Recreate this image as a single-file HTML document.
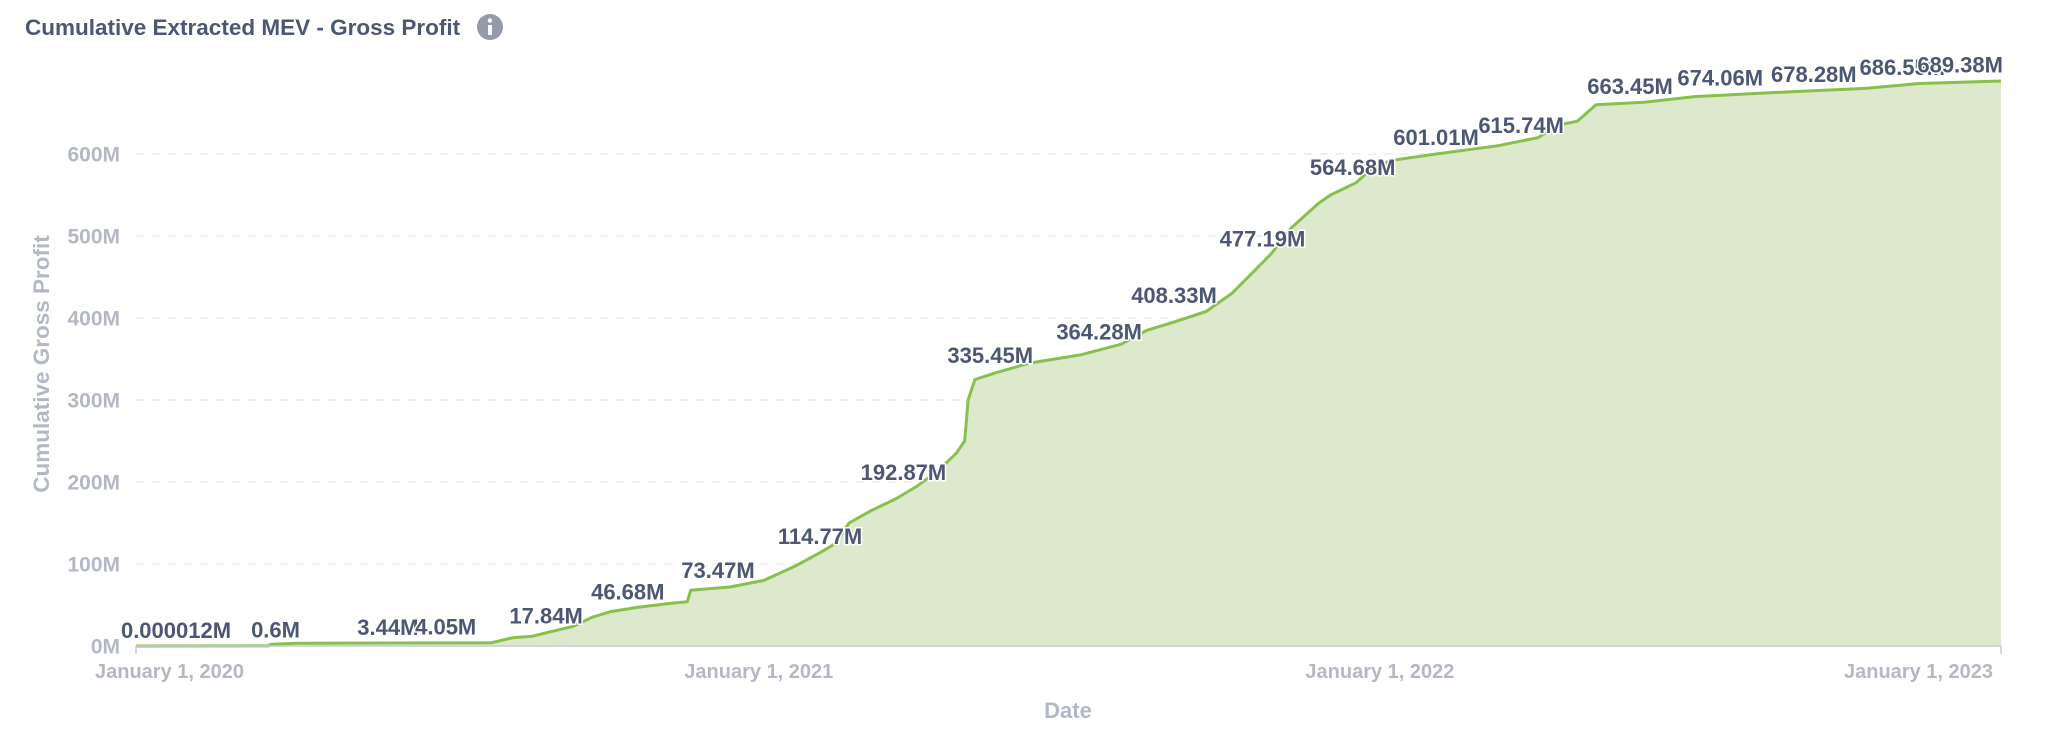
<!DOCTYPE html>
<html><head><meta charset="utf-8"><style>
html,body{margin:0;padding:0;background:#fff;}
svg{display:block;font-family:"Liberation Sans",sans-serif;}
</style></head><body>
<svg id="chart" width="2048" height="741" viewBox="0 0 2048 741">
<text x="25" y="35" font-size="22.5" font-weight="bold" fill="#4c5773">Cumulative Extracted MEV - Gross Profit</text>
<g>
<circle cx="490" cy="27" r="13" fill="#949aab"/>
<circle cx="490" cy="20.5" r="2.2" fill="#fff"/>
<rect x="488" y="25" width="4" height="10" fill="#fff"/>
</g>
<g id="grid"></g>
<g id="area"></g>
<g id="axes"></g>
<g id="labels"></g>
<text x="0" y="0" transform="translate(49,364) rotate(-90)" text-anchor="middle" font-size="22.5" font-weight="bold" fill="#b3b8c4">Cumulative Gross Profit</text>
<text x="1068" y="718" text-anchor="middle" font-size="22" font-weight="bold" fill="#b3b8c4">Date</text>
</svg>
<script>
const curveDates = ["2020-01-01","2020-03-19","2020-03-20","2020-04-04","2020-07-28","2020-08-09","2020-08-21","2020-09-02","2020-09-14","2020-09-25","2020-10-06","2020-10-21","2020-11-10","2020-11-20","2020-11-22","2020-12-15","2021-01-04","2021-01-23","2021-02-07","2021-02-15","2021-02-23","2021-03-08","2021-03-23","2021-04-04","2021-04-17","2021-04-27","2021-05-02","2021-05-04","2021-05-08","2021-05-20","2021-06-09","2021-07-09","2021-08-02","2021-08-17","2021-09-02","2021-09-21","2021-10-06","2021-10-18","2021-10-29","2021-11-10","2021-11-26","2021-12-03","2021-12-18","2021-12-26","2022-01-07","2022-02-03","2022-03-11","2022-04-04","2022-04-15","2022-04-27","2022-05-08","2022-06-05","2022-07-05","2022-08-21","2022-10-13","2022-11-14","2023-01-01"];
const curveValues = [0,0.1,2,3.4,4,10,12,18,24,35,42,47,52,54,68,72,80,98,115,125,150,165,180,195,215,235,250,300,325,333,345,355,368,385,395,408,430,455,478,510,540,550,565,580,592,600,610,620,635,640,660,663,670,675,680,686,689];
const labelDates = ["2020-01-01","2020-03-23","2020-05-28","2020-07-01","2020-08-29","2020-10-16","2020-12-08","2021-02-06","2021-03-27","2021-05-17","2021-07-20","2021-09-02","2021-10-24","2021-12-16","2022-02-03","2022-03-25","2022-05-28","2022-07-20","2022-09-13","2022-11-04","2022-12-08"];
const labelValues = [0.000012,0.6,3.44,4.05,17.84,46.68,73.47,114.77,192.87,335.45,364.28,408.33,477.19,564.68,601.01,615.74,663.45,674.06,678.28,686.55,689.38];
const labelTexts = ["0.000012M","0.6M","3.44M","4.05M","17.84M","46.68M","73.47M","114.77M","192.87M","335.45M","364.28M","408.33M","477.19M","564.68M","601.01M","615.74M","663.45M","674.06M","678.28M","686.55M","689.38M"];
const yTicks = [0,100,200,300,400,500,600];
const yTickLabels = ["0M","100M","200M","300M","400M","500M","600M"];
const xTickDates = ["2020-01-01","2021-01-01","2022-01-01","2023-01-01"];
const xTickLabels = ["January 1, 2020","January 1, 2021","January 1, 2022","January 1, 2023"];

const NS="http://www.w3.org/2000/svg";
const X0=136,X1=2001,Y0=646,PXPER=0.82;
const t0=Date.parse("2020-01-01"),t1=Date.parse("2023-01-01");
function xs(d){return X0+(Date.parse(d)-t0)/(t1-t0)*(X1-X0);}
function ys(v){return Y0-v*PXPER;}
function mk(tag,attrs,parent){const e=document.createElementNS(NS,tag);for(const k in attrs)e.setAttribute(k,attrs[k]);parent.appendChild(e);return e;}

const grid=document.getElementById('grid'),axes=document.getElementById('axes'),area=document.getElementById('area'),labels=document.getElementById('labels');
yTicks.forEach((v,i)=>{
  if(v>0){const l=mk('line',{x1:X0,x2:X1,y1:ys(v),y2:ys(v),stroke:'#ececec','stroke-width':1.5,'stroke-dasharray':'8,8'},grid);
  
  }
  const t=mk('text',{x:120,y:ys(v)+7.5,'text-anchor':'end','font-size':21,'font-weight':'bold',fill:'#b3b8c4'},axes);
  t.textContent=yTickLabels[i];
  
  
});
let pts=curveDates.map((d,i)=>xs(d).toFixed(1)+','+ys(curveValues[i]).toFixed(1));
const fill=mk('polygon',{points:X0+','+Y0+' '+pts.join(' ')+' '+xs(curveDates[curveDates.length-1]).toFixed(1)+','+Y0,fill:'#dde9cc'},area);


const line=mk('polyline',{points:pts.join(' '),fill:'none',stroke:'#88bf4d','stroke-width':3,'stroke-linejoin':'round'},area);


const ax=mk('line',{x1:X0,x2:X1,y1:Y0,y2:Y0,stroke:'#c9ccd3','stroke-width':1.5},axes);


xTickDates.forEach((d,i)=>{
  const x=xs(d);
  const last=i===xTickDates.length-1;
  if(i===0||last){
    const tk=mk('line',{x1:x,x2:x,y1:Y0,y2:Y0+8,stroke:'#c9ccd3','stroke-width':1.5},axes);
    
    
  }
  let anchor='middle',tx=x;
  if(i===0){anchor='start';tx=x-41;}
  if(last){anchor='end';tx=x-8;}
  const t=mk('text',{x:tx,y:678,'text-anchor':anchor,'font-size':20,'font-weight':'bold',fill:'#b3b8c4'},axes);
  t.textContent=xTickLabels[i];
  
  
});
labelDates.forEach((d,i)=>{
  let x=xs(d);
  if(i===0)x+=40;
  const t=mk('text',{x:x,y:ys(labelValues[i])-8,'text-anchor':'middle','font-size':22,'font-weight':'bold',fill:'#4c5773',stroke:'#fff','stroke-width':3,'paint-order':'stroke','stroke-linejoin':'round'},labels);
  t.textContent=labelTexts[i];
  
  
});
</script>
</body></html>
